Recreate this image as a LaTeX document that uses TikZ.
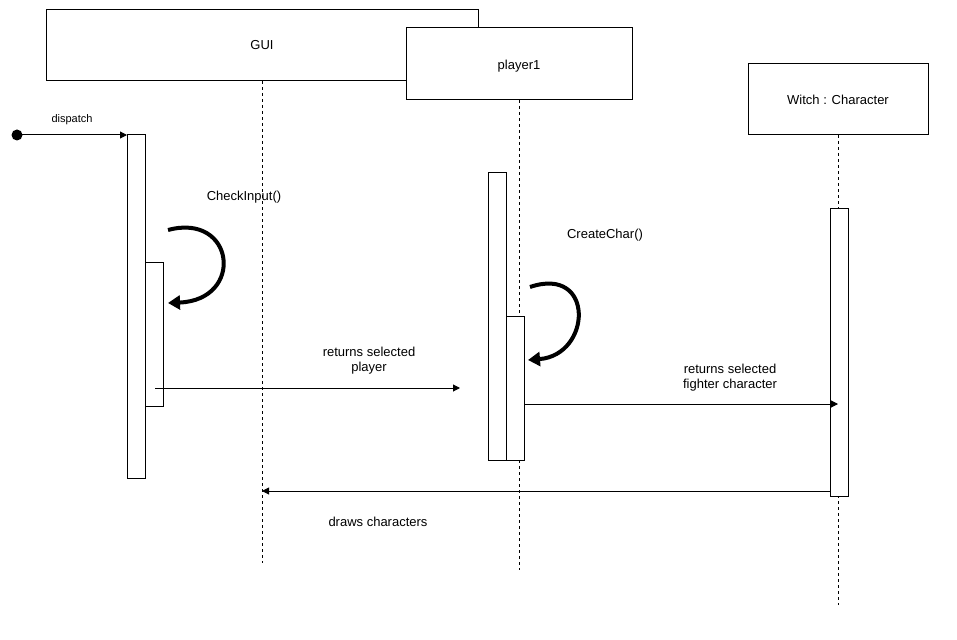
\documentclass[tikz,border=0pt]{standalone}
\usepackage{fontspec}
\setmainfont{Liberation Sans}
\usetikzlibrary{arrows.meta}
\begin{document}
\begin{tikzpicture}[x=1pt,y=-1pt,
  box/.style={draw,fill=white,line width=1pt,inner sep=0},
  act/.style={draw,fill=white,line width=1pt},
  life/.style={dashed,line width=0.8pt},
  msg/.style={-{Triangle[length=7pt,width=7pt]},line width=1pt},
  lbl/.style={font=\fontsize{13}{15}\selectfont,align=center},
  loop/.style={-{Triangle[length=12pt,width=14pt]},line width=4pt}]
\useasboundingbox (0,0) rectangle (957,639);
% lifelines
\draw[life] (262,81) -- (262,563);
\draw[life] (519,100) -- (519,570);
\draw[life] (838,135) -- (838,605);
% boxes
\node[box,minimum width=432pt,minimum height=71pt] (gui) at (262,45.5) {};
\node[lbl] (guit) at (262,45) {GUI};
\node[box,minimum width=226pt,minimum height=72pt] (p1) at (519,64) {};
\node[lbl] (p1t) at (519,66) {player1};
\node[box,minimum width=180pt,minimum height=71pt] (w) at (838,99.5) {};
\node[lbl] (wt) at (838,100) {Witch : Character};
% activations
\draw[act] (127,135) rectangle (145,478);
\draw[act] (145,262) rectangle (163,406);
\draw[act] (488,172) rectangle (506,460);
\draw[act] (506,316) rectangle (524,460);
\draw[act] (830,208) rectangle (848,496);
% dispatch
\fill (17,135) circle (5.5pt);
\coordinate (ds) at (17,135);
\coordinate (de) at (127,135);
\draw[msg] (ds) -- (de);
\node[font=\fontsize{11}{13}\selectfont] (dl) at (72,120) {dispatch};
% self loops
\node[lbl] (ci) at (244,197) {CheckInput()};
\draw[loop] (168,230) .. controls (235,212) and (245,300) .. (168,303);
\node[lbl] (cc) at (605,235) {CreateChar()};
\draw[loop] (530,287) .. controls (595,265) and (592,355) .. (528,360);
% messages
\coordinate (a1) at (155,388); \coordinate (a2) at (460,388);
\draw[msg] (a1) -- (a2);
\node[lbl] (l1) at (369,361) {returns selected\\player};
\coordinate (b1) at (524,404); \coordinate (b2) at (838,404);
\draw[msg] (b1) -- (b2);
\node[lbl] (l2) at (730,378) {returns selected\\fighter character};
\coordinate (c1) at (830,491); \coordinate (c2) at (262,491);
\draw[msg] (c1) -- (c2);
\node[lbl] (l3) at (378,522) {draws characters};
\end{tikzpicture}
\end{document}
